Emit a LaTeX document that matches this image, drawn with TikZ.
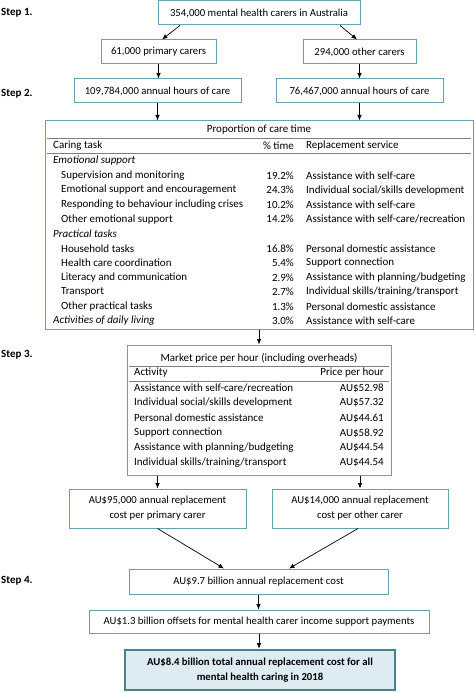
\documentclass[tikz,border=0pt]{standalone}
\usepackage{fontspec}
\setmainfont{Carlito}
\usetikzlibrary{arrows.meta}
\definecolor{bc}{HTML}{68A3AD}
\definecolor{fbc}{HTML}{468291}
\definecolor{ffill}{HTML}{DCECF2}
\definecolor{rulec}{HTML}{7F7F7F}
\begin{document}
\begin{tikzpicture}[x=1pt,y=-1pt,
  every node/.style={font=\fontsize{10.7}{12}\selectfont},
  box/.style={draw=bc,line width=1pt,fill=white,inner sep=0pt,align=center},
  finalbox/.style={draw=fbc,line width=2.6pt,fill=ffill,inner sep=0pt,align=center,font=\fontsize{10.7}{15}\selectfont\bfseries},
  steplab/.style={anchor=west,inner sep=0pt,font=\fontsize{11}{12}\selectfont\bfseries},
  cellw/.style={anchor=west,inner sep=0pt,font=\fontsize{11}{12}\selectfont},
  celle/.style={anchor=east,inner sep=0pt,font=\fontsize{11}{12}\selectfont},
  cellc/.style={inner sep=0pt,font=\fontsize{11}{12}\selectfont},
  arr/.style={-{Latex[length=5.5pt,width=4.5pt]},line width=0.7pt,black},
  tabrule/.style={draw=rulec,line width=0.8pt}]
\useasboundingbox (0,0) rectangle (474,692);

% Step labels
\node[steplab] (s1) at (1,13) {Step 1.};
\node[steplab] (s2) at (1,94) {Step 2.};
\node[steplab] (s3) at (1,355) {Step 3.};
\node[steplab] (s4) at (1,581) {Step 4.};

% Step 1 boxes
\node[box,minimum width=202pt,minimum height=24pt] (top) at (259,13) {354,000 mental health carers in Australia};
\node[box,minimum width=115pt,minimum height=24pt] (prim) at (158.5,52) {61,000 primary carers};
\node[box,minimum width=113pt,minimum height=24pt] (oth) at (359.5,52) {294,000 other carers};

% Step 2 boxes
\node[box,minimum width=167pt,minimum height=24pt] (hl) at (157.5,91) {109,784,000 annual hours of care};
\node[box,minimum width=167pt,minimum height=24pt] (hr) at (359.5,91) {76,467,000 annual hours of care};

% Table box
\node[box,minimum width=428pt,minimum height=208pt] (tab) at (259,225) {};
\node[cellc] (ttitle) at (259,130) {Proportion of care time};
\draw[tabrule] (47,138) -- (471,138);
\node[cellw] (th1) at (53,146) {Caring task};
\node[celle] (th2) at (294,146) {\% time};
\node[cellw] (th3) at (306,146) {Replacement service};
\draw[tabrule] (47,153) -- (471,153);

\node[cellw] (r1) at (53,161) {\itshape Emotional support};
\node[cellw] (r2) at (61,175.5) {Supervision and monitoring};
\node[celle] (p2) at (294,175.5) {19.2\%};
\node[cellw] (q2) at (306,175.5) {Assistance with self-care};
\node[cellw] (r3) at (61,190.1) {Emotional support and encouragement};
\node[celle] (p3) at (294,190.1) {24.3\%};
\node[cellw] (q3) at (306,190.1) {Individual social/skills development};
\node[cellw] (r4) at (61,204.6) {Responding to behaviour including crises};
\node[celle] (p4) at (294,204.6) {10.2\%};
\node[cellw] (q4) at (306,204.6) {Assistance with self-care};
\node[cellw] (r5) at (61,219.2) {Other emotional support};
\node[celle] (p5) at (294,219.2) {14.2\%};
\node[cellw] (q5) at (306,219.2) {Assistance with self-care/recreation};
\node[cellw] (r6) at (53,233.7) {\itshape Practical tasks};
\node[cellw] (r7) at (61,248.3) {Household tasks};
\node[celle] (p7) at (294,248.3) {16.8\%};
\node[cellw] (q7) at (306,248.3) {Personal domestic assistance};
\node[cellw] (r8) at (61,262.8) {Health care coordination};
\node[celle] (p8) at (294,262.8) {5.4\%};
\node[cellw] (q8) at (306,262.8) {Support connection};
\node[cellw] (r9) at (61,277.4) {Literacy and communication};
\node[celle] (p9) at (294,277.4) {2.9\%};
\node[cellw] (q9) at (306,277.4) {Assistance with planning/budgeting};
\node[cellw] (r10) at (61,291.9) {Transport};
\node[celle] (p10) at (294,291.9) {2.7\%};
\node[cellw] (q10) at (306,291.9) {Individual skills/training/transport};
\node[cellw] (r11) at (61,306.5) {Other practical tasks};
\node[celle] (p11) at (294,306.5) {1.3\%};
\node[cellw] (q11) at (306,306.5) {Personal domestic assistance};
\node[cellw] (r12) at (53,321) {\itshape Activities of daily living};
\node[celle] (p12) at (294,321) {3.0\%};
\node[cellw] (q12) at (306,321) {Assistance with self-care};

% Market box
\node[box,minimum width=264pt,minimum height=130pt] (mkt) at (259,410) {};
\node[cellc] (mtitle) at (259,358) {Market price per hour (including overheads)};
\draw[tabrule] (129,366) -- (389,366);
\node[cellw] (mh1) at (134,373) {Activity};
\node[celle] (mh2) at (384,373) {Price per hour};
\draw[tabrule] (129,381) -- (389,381);
\node[cellw] (m1) at (134,388) {Assistance with self-care/recreation};
\node[celle] (n1) at (384,388) {AU\$52.98};
\node[cellw] (m2) at (134,403) {Individual social/skills development};
\node[celle] (n2) at (384,403) {AU\$57.32};
\node[cellw] (m3) at (134,418) {Personal domestic assistance};
\node[celle] (n3) at (384,418) {AU\$44.61};
\node[cellw] (m4) at (134,433) {Support connection};
\node[celle] (n4) at (384,433) {AU\$58.92};
\node[cellw] (m5) at (134,448) {Assistance with planning/budgeting};
\node[celle] (n5) at (384,448) {AU\$44.54};
\node[cellw] (m6) at (134,463) {Individual skills/training/transport};
\node[celle] (n6) at (384,463) {AU\$44.54};

% Cost boxes
\node[box,minimum width=177pt,minimum height=39pt,font=\fontsize{10.7}{15}\selectfont] (cl) at (157.5,508.5) {AU\$95,000 annual replacement\\cost per primary carer};
\node[box,minimum width=176pt,minimum height=39pt,font=\fontsize{10.7}{15}\selectfont] (cr) at (360,508.5) {AU\$14,000 annual replacement\\cost per other carer};

% Step 4
\node[box,minimum width=259pt,minimum height=25pt] (b97) at (258.5,581.5) {AU\$9.7 billion annual replacement cost};
\node[box,minimum width=340pt,minimum height=23pt] (b13) at (259,621.5) {AU\$1.3 billion offsets for mental health carer income support payments};
\node[finalbox,minimum width=270pt,minimum height=40pt] (fin) at (260,670) {AU\$8.4 billion total annual replacement cost for all\\mental health caring in 2018};

% Connectors
\draw[arr] ([xshift=-79pt]top.south) -- ([xshift=3.5pt]prim.north);
\draw[arr] ([xshift=81pt]top.south) -- ([xshift=-2.5pt]oth.north);
\draw[arr] (prim.south) -- (prim.south |- hl.north);
\draw[arr] (oth.south) -- (oth.south |- hr.north);
\draw[arr] (hl.south) -- (hl.south |- tab.north);
\draw[arr] (hr.south) -- (hr.south |- tab.north);
\draw[arr] (tab.south) -- (mkt.north);
\draw[arr] (cl.north |- mkt.south) -- (cl.north);
\draw[arr] (cr.north |- mkt.south) -- (cr.north);
\draw[arr] (cl.south) -- ([xshift=-34.5pt]b97.north);
\draw[arr] ([xshift=-2pt]cr.south) -- ([xshift=30.5pt]b97.north);
\draw[arr] (b97.south) -- (b97.south |- b13.north);
\draw[arr] (b13.south) -- (b13.south |- fin.north);
\end{tikzpicture}
\end{document}
